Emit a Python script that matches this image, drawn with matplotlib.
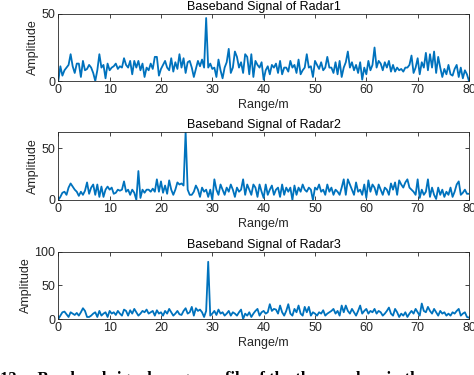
import numpy as np
import matplotlib
matplotlib.use("Agg")
import matplotlib.pyplot as plt

plt.rcParams['font.family'] = ['Liberation Sans', 'DejaVu Sans']

range_m = np.linspace(0, 80, 201)

radar1 = [0, 11, 4, 8, 10, 12, 20, 11, 6, 13,
          13, 3, 15, 8, 9, 12, 10, 6, 0, 8,
          20, 10, 12, 2, 13, 8, 10, 11, 13, 9,
          11, 10, 17, 12, 10, 15, 5, 15, 10, 15,
          8, 13, 3, 10, 8, 13, 9, 18, 18, 4,
          9, 12, 15, 10, 8, 17, 7, 14, 9, 20,
          10, 17, 6, 14, 15, 10, 3, 9, 15, 11,
          16, 10, 47, 10, 13, 9, 10, 3, 16, 8,
          2, 10, 14, 24, 6, 10, 22, 18, 10, 14,
          6, 20, 18, 5, 20, 3, 15, 12, 10, 14,
          1, 8, 11, 5, 12, 10, 13, 6, 15, 5,
          10, 10, 7, 15, 10, 12, 6, 16, 5, 8,
          10, 20, 10, 11, 3, 15, 12, 9, 14, 8,
          10, 18, 10, 10, 6, 14, 5, 15, 3, 10,
          14, 22, 10, 14, 8, 12, 6, 14, 1, 10,
          5, 15, 8, 12, 25, 10, 15, 13, 8, 14,
          10, 15, 7, 12, 7, 10, 8, 9, 7, 10,
          10, 12, 19, 6, 10, 17, 5, 14, 10, 21,
          8, 20, 10, 22, 6, 18, 10, 3, 9, 5,
          12, 5, 4, 9, 12, 3, 10, 2, 8, 5,
          0]

radar2 = [0, 3, 7, 8, 5, 12, 16, 13, 10, 8,
          4, 8, 5, 9, 17, 6, 12, 15, 5, 15,
          3, 13, 3, 10, 13, 10, 12, 6, 7, 10,
          9, 10, 18, 8, 10, 5, 10, 7, 0, 28,
          2, 10, 7, 10, 10, 8, 11, 8, 20, 8,
          18, 7, 14, 6, 19, 10, 5, 10, 17, 15,
          16, 14, 66, 10, 5, 5, 8, 14, 10, 3,
          12, 8, 10, 3, 10, 0, 20, 10, 5, 15,
          10, 5, 12, 8, 15, 10, 3, 12, 8, 10,
          20, 5, 15, 10, 5, 15, 12, 3, 15, 8,
          2, 15, 5, 10, 14, 5, 10, 12, 3, 15,
          5, 12, 8, 12, 0, 14, 5, 12, 8, 15,
          10, 8, 12, 10, 0, 12, 10, 15, 8, 10,
          5, 15, 8, 12, 5, 10, 8, 5, 12, 20,
          5, 20, 15, 10, 5, 17, 8, 10, 5, 15,
          2, 19, 8, 15, 12, 5, 15, 10, 5, 12,
          10, 5, 16, 10, 17, 5, 19, 15, 12, 17,
          20, 12, 10, 8, 5, 20, 2, 10, 5, 8,
          20, 3, 12, 5, 1, 12, 5, 10, 3, 8,
          5, 12, 3, 8, 15, 18, 5, 7, 10, 6,
          6]

radar3 = [0, 5, 10, 11, 7, 3, 10, 8, 6, 9,
          5, 10, 16, 12, 3, 3, 5, 8, 10, 3,
          12, 5, 8, 10, 3, 12, 8, 10, 6, 12,
          8, 5, 14, 12, 5, 13, 8, 15, 10, 5,
          8, 12, 10, 14, 8, 10, 12, 5, 13, 8,
          10, 5, 12, 8, 15, 10, 5, 8, 12, 7,
          6, 12, 16, 8, 10, 18, 5, 16, 12, 14,
          10, 3, 12, 85, 5, 8, 12, 6, 14, 8,
          10, 5, 8, 12, 5, 10, 8, 5, 10, 14,
          0, 8, 5, 10, 3, 8, 12, 15, 5, 10,
          12, 8, 10, 22, 12, 15, 14, 8, 20, 10,
          5, 12, 22, 8, 5, 15, 10, 20, 8, 5,
          18, 10, 18, 5, 10, 8, 5, 10, 8, 13,
          5, 8, 10, 12, 15, 8, 12, 5, 20, 10,
          20, 12, 8, 15, 10, 5, 12, 20, 8, 12,
          15, 8, 12, 10, 15, 8, 12, 10, 5, 8,
          12, 17, 8, 5, 15, 10, 3, 8, 5, 10,
          3, 8, 12, 8, 15, 10, 5, 23, 12, 10,
          18, 12, 8, 15, 10, 5, 12, 8, 10, 5,
          8, 5, 10, 8, 12, 15, 5, 8, 10, 3,
          2]

titles = ["Baseband Signal of Radar1", "Baseband Signal of Radar2", "Baseband Signal of Radar3"]
series = [radar1, radar2, radar3]
ylims = [50, 65.5, 100]
yticks = [[0, 50], [0, 50], [0, 50, 100]]
xticks = list(range(0, 81, 10))

W, H = 474, 375
fig = plt.figure(figsize=(W / 100, H / 100), dpi=100)
rects = [(58.3, 14, 469, 81), (58.3, 132.3, 469, 200), (58.3, 251.7, 469, 319)]

for (l, t, r, b), title, y, ylim, yt in zip(rects, titles, series, ylims, yticks):
    ax = fig.add_axes([l / W, 1 - b / H, (r - l) / W, (b - t) / H])
    ax.plot(range_m, y, color='#0072BD', lw=1.3)
    ax.set_xlim(0, 80)
    ax.set_ylim(0, ylim)
    ax.set_xticks(xticks)
    ax.set_yticks(yt)
    ax.tick_params(direction='in', top=True, right=True, length=3, width=0.6,
                   labelsize=9, colors='#262626', pad=2)
    for s in ax.spines.values():
        s.set_linewidth(0.6)
        s.set_color('#262626')
    ax.set_title(title, fontsize=9, pad=3, color='#000000')
    ax.set_xlabel("Range/m", fontsize=9, labelpad=2, color='#262626')
    ax.set_ylabel("Amplitude", fontsize=9, labelpad=2, color='#262626')

fig.text(0.0, 1 - 371 / H,
         "13.    Baseband signal range profile of the three radars in the scene.",
         fontsize=12, family='Liberation Serif', fontweight='bold', va='top', ha='left')

fig.savefig("out.png", dpi=100)
